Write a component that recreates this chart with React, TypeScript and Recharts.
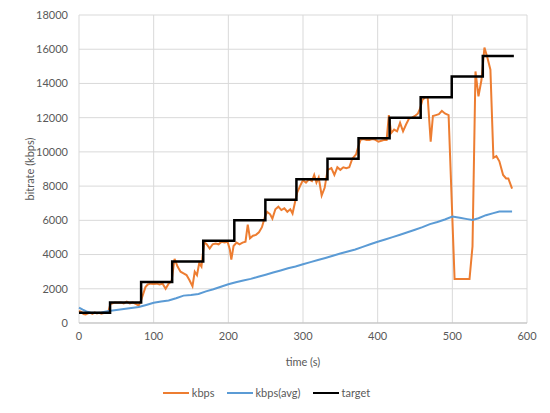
import { LineChart, Line, XAxis, YAxis, CartesianGrid, Legend } from 'recharts';

// measured bitrate, sampled every few seconds
const kbpsTime = [
  0, 3, 6, 9, 12, 15, 18, 21, 24, 27, 30, 33, 36, 39,
  42, 45, 48, 52, 56, 60, 64, 68, 72, 76, 80, 83,
  86, 89, 92, 96, 100, 104, 108, 112, 116, 120, 124,
  128, 132, 136, 140, 144, 148, 152, 155, 158, 161, 164, 166,
  168, 171, 175, 179, 183, 187, 191, 195, 199, 202, 204, 207,
  211, 215, 219, 223, 226, 229, 233, 237, 241, 245, 249,
  252, 256, 259, 263, 267, 271, 275, 279, 283, 286, 289,
  292, 296, 300, 304, 308, 312, 315, 318, 321, 325, 329,
  333, 338, 342, 346, 350, 354, 358, 362, 366, 371,
  374, 377, 381, 385, 389, 393, 397, 401, 405, 409, 412,
  415, 418, 422, 426, 430, 434, 438, 442, 446, 450, 454,
  457, 460, 464, 467, 471, 474, 478, 482, 486, 490, 495,
  503, 510, 517, 523, 527, 531, 535, 539, 543, 547, 551,
  555, 559, 563, 568, 572, 575, 580,
];
const kbpsValue = [
  700, 650, 520, 500, 560, 600, 540, 620, 560, 600, 540, 580, 600, 620,
  1100, 1150, 1200, 1180, 1200, 1150, 1250, 1150, 1200, 1120, 1020, 1300,
  1700, 2100, 2250, 2300, 2280, 2300, 2250, 2300, 2000, 2300, 2450,
  3750, 3300, 3000, 2900, 2800, 2500, 2150, 3000, 2800, 3500, 3300, 4100,
  4700, 4600, 4350, 4600, 4650, 4600, 4750, 4700, 4750, 4300, 3700, 4500,
  4700, 4600, 4700, 4750, 5750, 4950, 5100, 5150, 5300, 5600, 6200,
  6500, 6350, 6100, 6650, 6800, 6600, 6700, 6500, 6650, 6400, 7000,
  7600, 8000, 8350, 8200, 8400, 8300, 8650, 8200, 8500, 7450, 7900,
  8950, 9050, 8650, 9100, 8950, 9100, 9050, 9100, 9600, 9850,
  10300, 10700, 10750, 10700, 10700, 10750, 10700, 10600, 10650, 10700, 10700,
  12150, 11100, 11300, 11200, 11700, 11200, 11600, 11950, 12000, 12100, 12250,
  12550, 13050, 13200, 13200, 10600, 12100, 12150, 12200, 12400, 12250, 12150,
  2570, 2570, 2570, 2570, 4470, 14700, 13250, 14200, 16100, 15500, 14800,
  9650, 9750, 9450, 8650, 8450, 8450, 7850,
];

// running average
const avgTime = [
  0, 5, 10, 15, 20, 30, 40, 50, 60, 70, 80, 90, 100, 110, 120, 130, 140, 150,
  160, 170, 180, 190, 200, 210, 220, 230, 240, 250, 260, 270, 280, 290, 300,
  310, 320, 330, 340, 350, 360, 370, 380, 390, 400, 410, 420, 430, 440, 450,
  460, 470, 480, 490, 500, 510, 520, 527, 535, 545, 555, 563, 570, 580,
];
const avgValue = [
  900, 780, 680, 620, 600, 620, 700, 760, 820, 880, 930, 1050, 1180, 1260, 1320, 1450, 1600, 1640,
  1700, 1850, 1970, 2120, 2260, 2380, 2480, 2580, 2700, 2820, 2950, 3070, 3200, 3300, 3430,
  3560, 3680, 3800, 3930, 4060, 4180, 4300, 4450, 4600, 4750, 4880, 5020, 5160, 5300, 5450,
  5600, 5780, 5900, 6050, 6220, 6150, 6070, 6020, 6120, 6300, 6420, 6520, 6520, 6520,
];

// target bitrate steps
const targetTime = [0, 41.6, 83.2, 124.8, 166.4, 208, 249.6, 291.2, 332.8, 374.4, 416, 457.6, 499.2, 540.8, 582.4];
const targetValue = [600, 1200, 2400, 3600, 4800, 6000, 7200, 8400, 9600, 10800, 12000, 13200, 14400, 15600, 15600];

const xTicks = [0, 100, 200, 300, 400, 500, 600];
const yTicks = [0, 2000, 4000, 6000, 8000, 10000, 12000, 14000, 16000, 18000];

const kbpsData = kbpsTime.map((t, i) => ({ t, v: kbpsValue[i] }));
const avgData = avgTime.map((t, i) => ({ t, v: avgValue[i] }));
const targetData = targetTime.map((t, i) => ({ t, v: targetValue[i] }));

const textColor = '#595959';
const fontSize = 11;

function LegendContent(props: any) {
  const payload = props.payload || [];
  return (
    <div style={{ display: 'flex', justifyContent: 'center', gap: 12, fontSize, color: textColor, paddingLeft: 6 }}>
      {payload.map((p: any) => (
        <span key={p.value} style={{ display: 'flex', alignItems: 'center' }}>
          <span style={{ display: 'inline-block', width: 26, borderTop: `2.5px solid ${p.color}`, marginRight: 3 }} />
          {p.value}
        </span>
      ))}
    </div>
  );
}

export default function App() {
  return (
    <div style={{ position: 'absolute', left: 0, top: 0, fontFamily: 'Lato, sans-serif' }}>
      <LineChart width={550} height={413} margin={{ top: 15, right: 23, bottom: 10, left: 0 }}>
        <CartesianGrid stroke="#d9d9d9" />
        <XAxis
          dataKey="t"
          type="number"
          domain={[0, 600]}
          ticks={xTicks}
          tickLine={false}
          axisLine={{ stroke: '#bfbfbf' }}
          tick={{ fill: textColor, fontSize }}
          tickMargin={3}
          height={60}
          label={{ value: 'time (s)', position: 'insideBottom', offset: 17, fill: textColor, fontSize }}
        />
        <YAxis
          type="number"
          domain={[0, 18000]}
          ticks={yTicks}
          tickLine={false}
          axisLine={false}
          tick={{ fill: textColor, fontSize }}
          tickMargin={5}
          width={79}
          label={{ value: 'bitrate (kbps)', angle: -90, position: 'insideLeft', offset: 30, fill: textColor, fontSize, style: { textAnchor: 'middle' } }}
        />
        <Legend verticalAlign="bottom" content={LegendContent} wrapperStyle={{ height: 20, lineHeight: '20px' }} />
        <Line data={kbpsData} dataKey="v" name="kbps" type="linear" stroke="#ED7D31" strokeWidth={2} dot={false} isAnimationActive={false} />
        <Line data={avgData} dataKey="v" name="kbps(avg)" type="linear" stroke="#5B9BD5" strokeWidth={2} dot={false} isAnimationActive={false} />
        <Line data={targetData} dataKey="v" name="target" type="stepAfter" stroke="#000000" strokeWidth={2.5} dot={false} isAnimationActive={false} />
      </LineChart>
    </div>
  );
}
